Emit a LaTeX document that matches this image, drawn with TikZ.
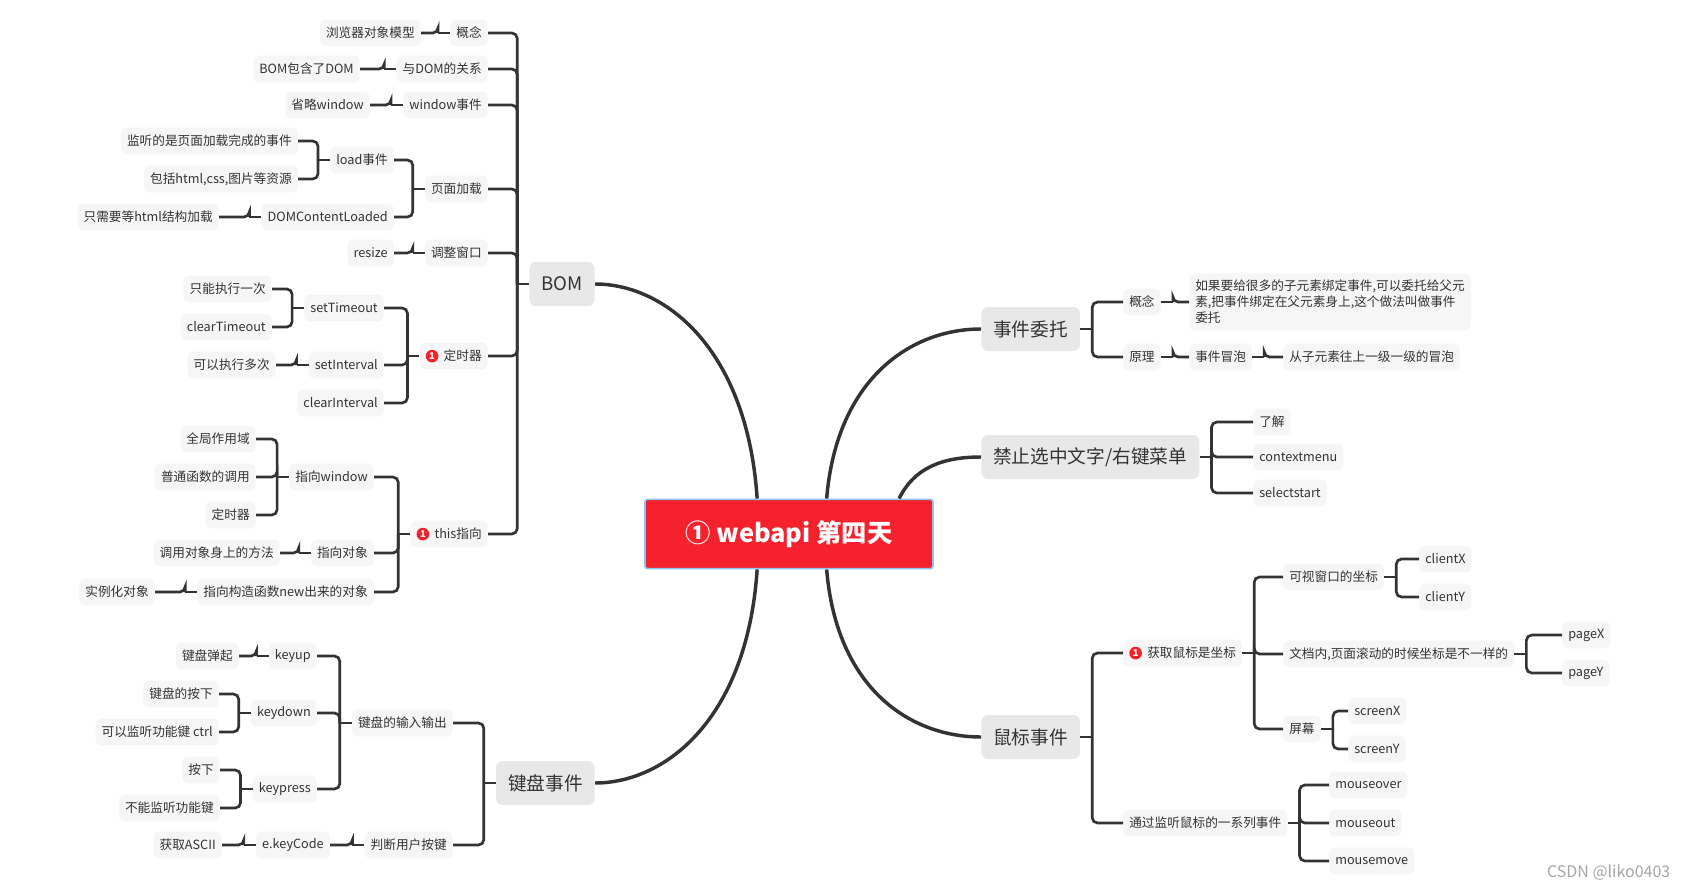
\documentclass[tikz,border=0pt]{standalone}
\usepackage{fontspec}
\setmainfont{Noto Sans CJK SC}
\usetikzlibrary{calc}
\definecolor{ink}{HTML}{333333}
\definecolor{leaf}{HTML}{F6F6F6}
\definecolor{mainb}{HTML}{E8E8E8}
\definecolor{cred}{HTML}{F5222D}
\definecolor{cblue}{HTML}{8CC4F0}
\newcommand\mybadge{\tikz[baseline=-0.6ex]\node[circle,fill=cred,inner sep=0pt,minimum size=9.5pt,text=white,font=\fontsize{7}{7}\selectfont\bfseries]{1};\hspace{4pt}}
\tikzset{
  lf/.style={fill=leaf,rounded corners=4pt,text=ink,font=\fontsize{9.5}{12}\selectfont,inner xsep=4.5pt,inner ysep=0pt,minimum height=20pt},
  mb/.style={fill=mainb,rounded corners=5pt,text=ink,font=\fontsize{14}{16}\selectfont,inner xsep=9pt,minimum height=33pt},
  conn/.style={draw=ink,line width=2pt},
  big/.style={draw=ink,line width=2.6pt},
}
\newcommand\lconn[2]{\draw[conn] (#1.west) -- ++(-9pt,0);
  \foreach \c in {#2} {\draw[conn,rounded corners=4pt] ($(#1.west)+(-9pt,0)$) |- (\c.east);}}
\newcommand\rconn[2]{\draw[conn] (#1.east) -- ++(9pt,0);
  \foreach \c in {#2} {\draw[conn,rounded corners=4pt] ($(#1.east)+(9pt,0)$) |- (\c.west);}}
\begin{document}
\begin{tikzpicture}[x=0.75pt,y=-0.75pt]
\fill[white] (0,0) rectangle (1687,891);
\useasboundingbox (0,0) rectangle (1687,891);
% center
\node[fill=cred,draw=cblue,line width=1.2pt,rounded corners=2pt,minimum width=216pt,minimum height=52pt,text=white,font=\fontsize{19}{22}\selectfont\bfseries] (C) at (789,534) {① webapi 第四天};
% BOM
\node[mb,anchor=east] (B) at (595,284) {BOM};
\begin{scope}[every node/.style={lf,anchor=east}]
\node (b1) at (488,33) {概念};
\node (b1a) at (421,33) {浏览器对象模型};
\node (b2) at (488,69) {与DOM的关系};
\node (b2a) at (360,69) {BOM包含了DOM};
\node (b3) at (488,105) {window事件};
\node (b3a) at (370,105) {省略window};
\node (b4) at (488,189) {页面加载};
\node (b4a) at (394,160) {load事件};
\node (b4a1) at (298,141) {监听的是页面加载完成的事件};
\node (b4a2) at (298,179) {包括html,css,图片等资源};
\node (b4b) at (394,217) {DOMContentLoaded};
\node (b4b1) at (219,217) {只需要等html结构加载};
\node (b5) at (488,253) {调整窗口};
\node (b5a) at (394,253) {resize};
\node (b6) at (488,356) {\mybadge 定时器};
\node (b6a) at (384,308) {setTimeout};
\node (b6a1) at (272,289) {只能执行一次};
\node (b6a2) at (272,327) {clearTimeout};
\node (b6b) at (384,365) {setInterval};
\node (b6b1) at (276,365) {可以执行多次};
\node (b6c) at (384,403) {clearInterval};
\node (b7) at (488,534) {\mybadge this指向};
\node (b7a) at (374,477) {指向window};
\node (b7a1) at (256,439) {全局作用域};
\node (b7a2) at (256,477) {普通函数的调用};
\node (b7a3) at (256,515) {定时器};
\node (b7b) at (374,553) {指向对象};
\node (b7b1) at (280,553) {调用对象身上的方法};
\node (b7c) at (374,592) {指向构造函数new出来的对象};
\node (b7c1) at (155,592) {实例化对象};
\end{scope}
% keyboard
\node[mb,anchor=east] (K) at (595,783) {键盘事件};
\begin{scope}[every node/.style={lf,anchor=east}]
\node (k1) at (453,723) {键盘的输入输出};
\node (k1a) at (317,656) {keyup};
\node (k1a1) at (239,656) {键盘弹起};
\node (k1b) at (317,713) {keydown};
\node (k1b1) at (219,694) {键盘的按下};
\node (k1b2) at (219,732) {可以监听功能键 ctrl};
\node (k1c) at (317,789) {keypress};
\node (k1c1) at (220,770) {按下};
\node (k1c2) at (220,808) {不能监听功能键};
\node (k2) at (453,845) {判断用户按键};
\node (k2a) at (330,845) {e.keyCode};
\node (k2a1) at (222,845) {获取ASCII};
\end{scope}
% right side
\node[mb,anchor=west] (E) at (981,329) {事件委托};
\node[mb,anchor=west] (J) at (981,457) {禁止选中文字/右键菜单};
\node[mb,anchor=west] (M) at (981,737) {鼠标事件};
\begin{scope}[every node/.style={lf,anchor=west}]
\node (e1) at (1123,302) {概念};
\node[inner ysep=5pt,align=left] (e1a) at (1189,302) {如果要给很多的子元素绑定事件,可以委托给父元\\素,把事件绑定在父元素身上,这个做法叫做事件\\委托};
\node (e2) at (1123,357) {原理};
\node (e2a) at (1189,357) {事件冒泡};
\node (e2b) at (1283,357) {从子元素往上一级一级的冒泡};
\node (j1) at (1253,422) {了解};
\node (j2) at (1253,457) {contextmenu};
\node (j3) at (1253,493) {selectstart};
\node (m1) at (1123,653) {\mybadge 获取鼠标是坐标};
\node (m1a) at (1283,577) {可视窗口的坐标};
\node (m1a1) at (1419,559) {clientX};
\node (m1a2) at (1419,597) {clientY};
\node (m1b) at (1283,654) {文档内,页面滚动的时候坐标是不一样的};
\node (m1b1) at (1562,635) {pageX};
\node (m1b2) at (1562,673) {pageY};
\node (m1c) at (1283,729) {屏幕};
\node (m1c1) at (1348,711) {screenX};
\node (m1c2) at (1348,749) {screenY};
\node (m2) at (1123,823) {通过监听鼠标的一系列事件};
\node (m2a) at (1329,785) {mouseover};
\node (m2b) at (1329,823) {mouseout};
\node (m2c) at (1329,861) {mousemove};
\end{scope}
\node[text=gray!70,font=\fontsize{12}{14}\selectfont,anchor=east] (wm) at (1675,873) {CSDN @liko0403};
% main curves
\coordinate (c1) at ($(C.north west)!0.39!(C.north east)$);
\coordinate (c2) at ($(C.north west)!0.63!(C.north east)$);
\coordinate (c3) at ($(C.north west)!0.88!(C.north east)$);
\coordinate (c4) at ($(C.south west)!0.39!(C.south east)$);
\coordinate (c5) at ($(C.south west)!0.63!(C.south east)$);
\draw[big] (c1) .. controls ($(c1)+(-10,-150)$) and ($(B.east)+(70,0)$) .. (B.east);
\draw[big] (c4) .. controls ($(c4)+(-10,150)$) and ($(K.east)+(70,0)$) .. (K.east);
\draw[big] (c2) .. controls ($(c2)+(10,-120)$) and ($(E.west)+(-70,0)$) .. (E.west);
\draw[big] (c3) .. controls ($(c3)+(15,-30)$) and ($(J.west)+(-40,0)$) .. (J.west);
\draw[big] (c5) .. controls ($(c5)+(10,120)$) and ($(M.west)+(-70,0)$) .. (M.west);
% connectors
\lconn{B}{b1,b2,b3,b4,b5,b6,b7}
\lconn{b1}{b1a}\lconn{b2}{b2a}\lconn{b3}{b3a}
\lconn{b4}{b4a,b4b}\lconn{b4a}{b4a1,b4a2}\lconn{b4b}{b4b1}
\lconn{b5}{b5a}
\lconn{b6}{b6a,b6b,b6c}\lconn{b6a}{b6a1,b6a2}\lconn{b6b}{b6b1}
\lconn{b7}{b7a,b7b,b7c}\lconn{b7a}{b7a1,b7a2,b7a3}\lconn{b7b}{b7b1}\lconn{b7c}{b7c1}
\lconn{K}{k1,k2}\lconn{k1}{k1a,k1b,k1c}\lconn{k1a}{k1a1}\lconn{k1b}{k1b1,k1b2}\lconn{k1c}{k1c1,k1c2}
\lconn{k2}{k2a}\lconn{k2a}{k2a1}
\rconn{E}{e1,e2}\rconn{e1}{e1a}\rconn{e2}{e2a}\rconn{e2a}{e2b}
\rconn{J}{j1,j2,j3}
\rconn{M}{m1,m2}\rconn{m1}{m1a,m1b,m1c}\rconn{m1a}{m1a1,m1a2}\rconn{m1b}{m1b1,m1b2}\rconn{m1c}{m1c1,m1c2}
\rconn{m2}{m2a,m2b,m2c}
\end{tikzpicture}
\end{document}
